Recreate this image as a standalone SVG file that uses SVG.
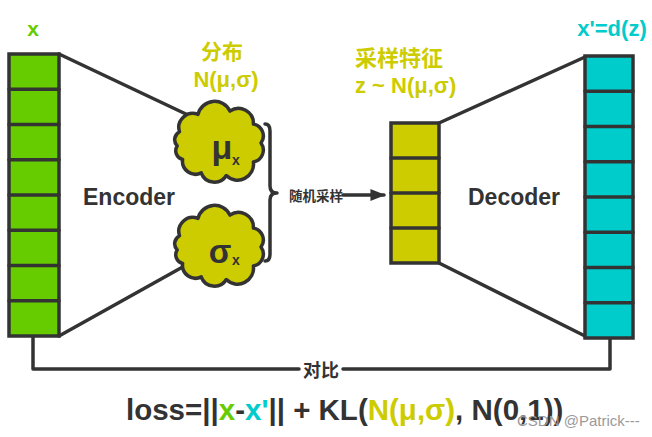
<svg xmlns="http://www.w3.org/2000/svg" width="652" height="437" viewBox="0 0 652 437">
<style>
.ln{stroke:#333;stroke-width:3.5;fill:none;stroke-linecap:round;stroke-linejoin:round}
.cell{stroke:#333;stroke-width:3.5}
.g{fill:#66cc00}.c{fill:#00cccc}.y{fill:#cccc00}
.t{font-family:"Liberation Sans",Arial,"Noto Sans CJK SC",sans-serif;font-weight:bold}
.dk{fill:#333}
</style>
<defs>
<path id="cloud" d="M-39.5,-11.3 A14,14 0 0 1 -21,-28.6 A17,17 0 0 1 10.9,-31.9 A15,15 0 0 1 34.4,-18.9 A12,12 0 0 1 42,0 A12,12 0 0 1 34.4,18.9 A16,16 0 0 1 7.3,32.5 A14,14 0 0 1 -17.8,29.9 A13,13 0 0 1 -36.4,16.5 A9,9 0 0 1 -41.8,2.9 A9,9 0 0 1 -39.5,-11.3 Z" fill="#cccc00" stroke="#333" stroke-width="3.5" stroke-linejoin="round"/>
<marker id="ah" viewBox="0 0 10 10" refX="9" refY="5" markerWidth="4.3" markerHeight="4.3" orient="auto" markerUnits="strokeWidth"><path d="M0,1 L10,5 L0,9 Z" fill="#333"/></marker>
</defs>
<rect width="652" height="437" fill="#fff"/>
<g id="connectors">
<path class="ln" d="M59,54 L188,115"/>
<path class="ln" d="M59,336 L188,264"/>
<path class="ln" d="M439,123 L585,57"/>
<path class="ln" d="M439,263 L585,336"/>
<path class="ln" d="M265,124 Q270,124 270,131 L270,186 Q270,193 277,193 Q270,193 270,200 L270,254 Q270,261 265,261"/>
<path class="ln" d="M343,195 L384,195" stroke-width="3" marker-end="url(#ah)"/>
<path class="ln" d="M33,337 L33,369 L299,369"/>
<path class="ln" d="M343,369 L610,369 L610,338"/>
</g>
<g id="input">
<rect class="cell g" x="9" y="54" width="50" height="282"/>
<path class="ln" d="M9,89.25H59M9,124.5H59M9,159.75H59M9,195H59M9,230.25H59M9,265.5H59M9,300.75H59"/>
<text class="t" x="33" y="36" font-size="21" fill="#66cc00" text-anchor="middle">x</text>
</g>
<g id="encoder">
<text class="t dk" x="83" y="205" font-size="23">Encoder</text>
</g>
<g id="mu">
<use href="#cloud" x="219" y="143"/>
<text class="t dk" x="222" y="159" font-size="34" text-anchor="middle">μ</text>
<text class="t dk" x="236" y="165" font-size="14" text-anchor="middle">x</text>
</g>
<g id="sigma">
<use href="#cloud" x="219" y="247"/>
<text class="t dk" x="220" y="263" font-size="33" text-anchor="middle">σ</text>
<text class="t dk" x="236" y="265" font-size="14" text-anchor="middle">x</text>
</g>
<g id="dist">
<text class="t y" x="222" y="59" font-size="21" text-anchor="middle">分布</text>
<text class="t y" x="226" y="87" font-size="22" text-anchor="middle">N(μ,σ)</text>
</g>
<g id="sample">
<text class="t dk" x="289" y="201" font-size="13.5">随机采样</text>
</g>
<g id="latent">
<rect class="cell y" x="391" y="123" width="48" height="140"/>
<path class="ln" d="M391,158H439M391,193H439M391,228H439"/>
<text class="t y" x="355" y="66" font-size="22">采样特征</text>
<text class="t y" x="355" y="93" font-size="22">z ~ N(μ,σ)</text>
</g>
<g id="decoder">
<text class="t dk" x="468" y="205" font-size="23">Decoder</text>
</g>
<g id="output">
<rect class="cell c" x="585" y="56" width="48" height="282"/>
<path class="ln" d="M585,91.25H633M585,126.5H633M585,161.75H633M585,197H633M585,232.25H633M585,267.5H633M585,302.75H633"/>
<text class="t c" x="612" y="36" font-size="22" text-anchor="middle">x'=d(z)</text>
</g>
<g id="compare">
<text class="t dk" x="321" y="377" font-size="18" text-anchor="middle">对比</text>
</g>
<g id="loss">
<text class="t dk" x="126" y="420" font-size="29.5">loss=||<tspan class="g">x</tspan>-<tspan class="c">x'</tspan>|| + KL(<tspan class="y">N(μ,σ)</tspan>, N(0,1))</text>
</g>
<text x="517" y="426" font-family="Liberation Sans,Arial,sans-serif" font-size="15" fill="#9a9a9a">CSDN @Patrick---</text>
</svg>
